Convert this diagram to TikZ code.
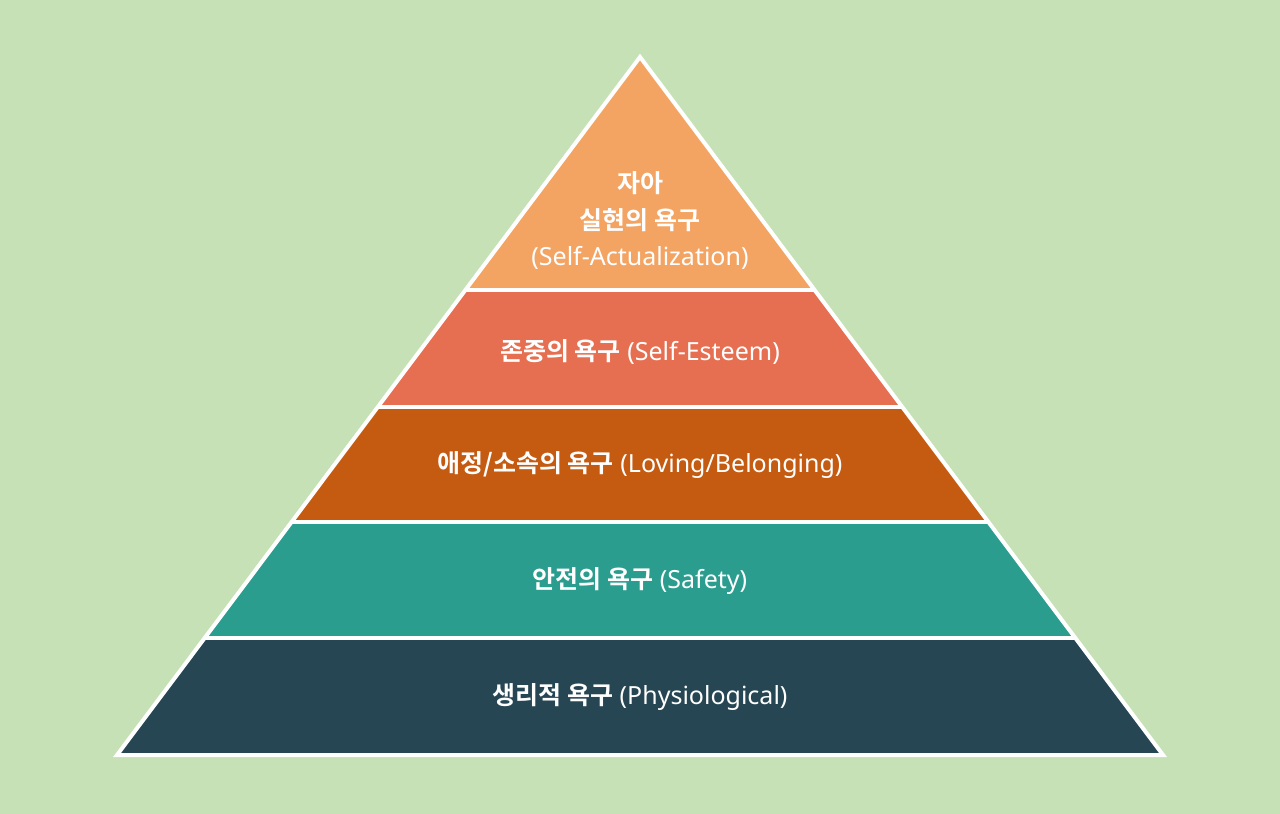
\documentclass[tikz,border=0pt]{standalone}
\usepackage{fontspec}
\setmainfont{Noto Sans}
\newfontfamily\kr{Noto Sans CJK KR}
\newfontfamily\krb{Noto Sans CJK KR Bold}
\definecolor{bg}{HTML}{C5E1B5}
\definecolor{cA}{HTML}{F4A462}
\definecolor{cB}{HTML}{E76F51}
\definecolor{cC}{HTML}{C55A11}
\definecolor{cD}{HTML}{2A9D8F}
\definecolor{cE}{HTML}{264653}
\begin{document}
\begin{tikzpicture}[x=1pt,y=-1pt,
  lbl/.style={text=white,font=\fontsize{25}{30}\selectfont,inner sep=0pt,anchor=center}]
\useasboundingbox (0,0) rectangle (1280,814);
\fill[bg] (0,0) rectangle (1280,814);
\fill[cA] (640,57) -- (465.5,290) -- (814.5,290) -- cycle;
\fill[cB] (465.5,290) -- (378,407) -- (902,407) -- (814.5,290) -- cycle;
\fill[cC] (378,407) -- (292,522) -- (988,522) -- (902,407) -- cycle;
\fill[cD] (292,522) -- (205,638) -- (1075,638) -- (988,522) -- cycle;
\fill[cE] (205,638) -- (117,755) -- (1163,755) -- (1075,638) -- cycle;
\foreach \y/\xl/\xr in {290/465.5/814.5,407/378/902,522/292/988,638/205/1075}
  \draw[white,line width=4] (\xl,\y) -- (\xr,\y);
\draw[white,line width=4,line join=miter] (640,57) -- (117,755) -- (1163,755) -- cycle;
\node[lbl] (t1) at (640,183) {\krb 자아};
\node[lbl] (t2) at (640,220) {\krb 실현의 욕구};
\node[lbl] (t3) at (640,258) {(Self-Actualization)};
\node[lbl] (t4) at (640,352) {{\krb 존중의 욕구} (Self-Esteem)};
\node[lbl] (t5) at (640,465) {{\krb 애정/소속의 욕구} (Loving/Belonging)};
\node[lbl] (t6) at (640,581) {{\krb 안전의 욕구} (Safety)};
\node[lbl] (t7) at (640,697) {{\krb 생리적 욕구} (Physiological)};
\end{tikzpicture}
\end{document}
